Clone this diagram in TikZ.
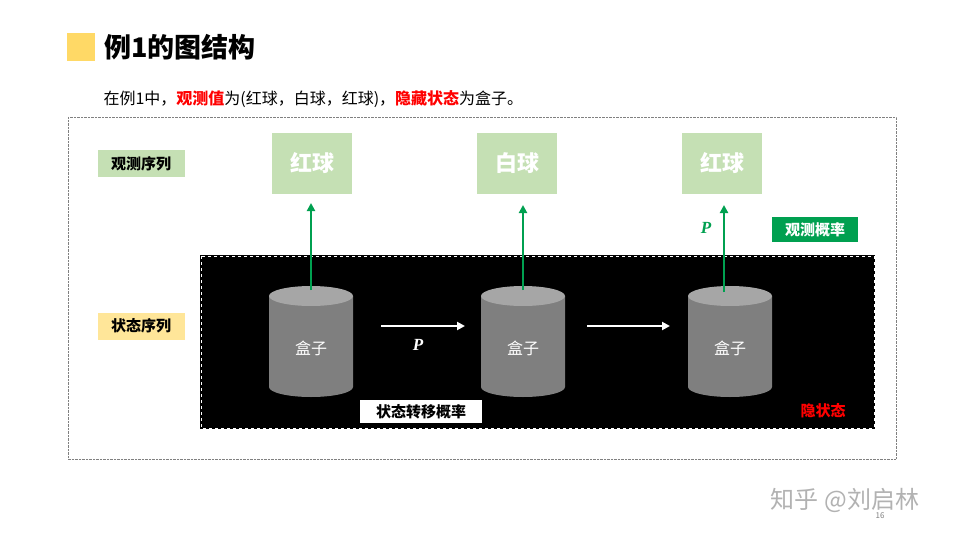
\documentclass[tikz,border=0pt]{standalone}
\usepackage{fontspec}
\setmainfont{Noto Sans CJK SC}
\usetikzlibrary{arrows.meta}
\definecolor{lgreen}{HTML}{C5E0B4}
\definecolor{dgreen}{HTML}{00A050}
\definecolor{lyellow}{HTML}{FFE699}
\definecolor{tyellow}{HTML}{FFD966}
\definecolor{cylside}{HTML}{7F7F7F}
\definecolor{cyltop}{HTML}{A6A6A6}
\tikzset{
 obs/.style={fill=lgreen,minimum width=80pt,minimum height=61pt,text=white,font=\bfseries\fontsize{22}{22}\selectfont},
 tag/.style={minimum width=87pt,minimum height=27pt,font=\bfseries\fontsize{15}{15}\selectfont,inner sep=2pt},
 garr/.style={dgreen,line width=2.6pt,-{Triangle[length=8pt,width=8pt]}},
 warr/.style={white,line width=2.6pt,-{Triangle[length=8pt,width=8pt]}},
}
\newcommand{\cyl}[3]{% x, name, label
 \fill[cylside] (#1-42,296) -- (#1-42,387) arc[start angle=180,end angle=0,x radius=42,y radius=10] -- (#1+42,296) -- cycle;
 \fill[cyltop] (#1,296) ellipse[x radius=42,y radius=10];
 \node[text=white,font=\fontsize{16}{16}\selectfont] (#2) at (#1,348) {#3};
}
\begin{document}
\begin{tikzpicture}[x=1pt,y=-1pt]
\useasboundingbox (0,0) rectangle (960,540);
\fill[white] (0,0) rectangle (960,540);
\fill[tyellow] (67,33) rectangle (95,61);
\node[anchor=west,font=\bfseries\fontsize{27}{27}\selectfont] (title) at (101,47) {例1的图结构};
\node[anchor=west,font=\fontsize{16}{16}\selectfont] (sub) at (100,99) {在例1中，\textcolor{red}{\bfseries 观测值}为(红球，白球，红球)，\textcolor{red}{\bfseries 隐藏状态}为盒子。};
\draw[gray,densely dotted] (68,117) rectangle (896,459);
\fill[black] (200,255) rectangle (875,429);
\draw[white,dashed,line width=0.6pt] (201,256) rectangle (874,428);
\node[obs] (o1) at (312,163.5) {红球};
\node[obs] (o2) at (517,163.5) {白球};
\node[obs] (o3) at (722,163.5) {红球};
\node[tag,fill=lgreen] (l1) at (141,164) {观测序列};
\node[tag,fill=lyellow] (l2) at (141,326) {状态序列};
\node[tag,fill=dgreen,text=white,minimum width=86pt,minimum height=25pt] (l3) at (815,229.5) {观测概率};
\cyl{311}{c1}{盒子}
\cyl{523}{c2}{盒子}
\cyl{730}{c3}{盒子}
\coordinate (g1a) at (311,290); \coordinate (g1b) at (311,203);
\coordinate (g2a) at (523,290); \coordinate (g2b) at (523,205);
\coordinate (g3a) at (724,292); \coordinate (g3b) at (724,205);
\draw[garr] (g1a) -- (g1b);
\draw[garr] (g2a) -- (g2b);
\draw[garr] (g3a) -- (g3b);
\coordinate (a1) at (381,326); \coordinate (b1) at (465,326);
\coordinate (a2) at (587,326); \coordinate (b2) at (670,326);
\draw[warr] (a1) -- (b1);
\draw[warr] (a2) -- (b2);
\node[text=white,font=\fontsize{17}{17}\selectfont] (p1) at (418,345) {\fontspec{Liberation Serif}\bfseries\itshape P};
\node[text=dgreen,font=\fontsize{17}{17}\selectfont] (p2) at (706,228) {\fontspec{Liberation Serif}\bfseries\itshape P};
\node[fill=white,minimum width=122pt,minimum height=23pt,font=\bfseries\fontsize{15}{15}\selectfont,inner sep=1pt] (tr) at (421,411.5) {状态转移概率};
\node[text=red,font=\bfseries\fontsize{15}{15}\selectfont] (hid) at (823,411) {隐状态};
\node[text=gray!60,font=\fontsize{24}{24}\selectfont] (wm) at (845,500) {知乎 @刘启林};
\node[text=gray,font=\fontsize{8}{8}\selectfont] (pg) at (880,516) {16};
\end{tikzpicture}
\end{document}
